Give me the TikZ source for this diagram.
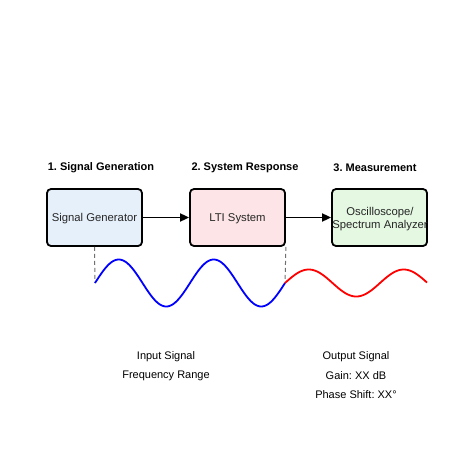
\documentclass[tikz,border=0pt]{standalone}
\usepackage{fontspec}
\setmainfont{Liberation Sans}
\usetikzlibrary{arrows.meta}
\frenchspacing
\definecolor{bluefill}{HTML}{E6F0FB}
\definecolor{pinkfill}{HTML}{FDE4E6}
\definecolor{greenfill}{HTML}{E4F8E2}
\definecolor{dashgray}{HTML}{707070}
\tikzset{
  stagebox/.style={draw=black, line width=1.8pt, rounded corners=4pt, minimum width=95pt, minimum height=57pt, inner sep=0pt, align=center, font=\fontsize{11.3}{13}\selectfont, text=black!85},
  boxtext/.style={font=\fontsize{11.3}{13}\selectfont, text=black!85, align=center, inner sep=0pt},
  stagetitle/.style={font=\fontsize{11}{13}\selectfont\bfseries},
  flow/.style={line width=1.8pt, -{Triangle[length=9pt,width=8pt]}},
  guide/.style={dashgray, line width=1pt, dash pattern=on 4pt off 3pt},
  caption/.style={font=\fontsize{11}{13}\selectfont, align=center},
}
\begin{document}
\begin{tikzpicture}[x=1pt,y=-1pt]
\useasboundingbox (0,0) rectangle (474,474);
\node[stagetitle] (t1) at (101,168) {1. Signal Generation};
\node[stagetitle] (t2) at (245,168) {2. System Response};
\node[stagetitle] (t3) at (375,168) {3. Measurement};
\node[stagebox, fill=bluefill] (b1) at (94.5,217.5) {};
\node[stagebox, fill=pinkfill] (b2) at (237.5,217.5) {};
\node[stagebox, fill=greenfill] (b3) at (379.5,217.5) {};
\node[boxtext] (l1) at (94.5,219) {Signal Generator};
\node[boxtext] (l2) at (237.5,219) {LTI System};
\node[boxtext] (l3) at (380,219) {Oscilloscope/\\Spectrum Analyzer};
\draw[flow] (b1) -- (b2);
\draw[flow] (b2) -- (b3);
\coordinate (w1) at (95,283);
\coordinate (w2) at (285,283);
\draw[guide] (b1.south) -- (w1);
\draw[guide] (b2.south east) -- (w2);
\draw[blue, line width=1.8pt, domain=95:285, samples=150, smooth] plot (\x, {283 - 23.5*sin((\x-95)/95*360)});
\draw[red, line width=1.8pt, domain=285:427, samples=120, smooth] plot (\x, {283 - 13.5*sin((\x-285)/95*360)});
\node[caption] (c1) at (166,357) {Input Signal};
\node[caption] (c2) at (166,376) {Frequency Range};
\node[caption] (c3) at (356,357) {Output Signal};
\node[caption] (c4) at (356,376) {Gain: XX dB};
\node[caption] (c5) at (356,395) {Phase Shift: XX°};
\end{tikzpicture}
\end{document}
